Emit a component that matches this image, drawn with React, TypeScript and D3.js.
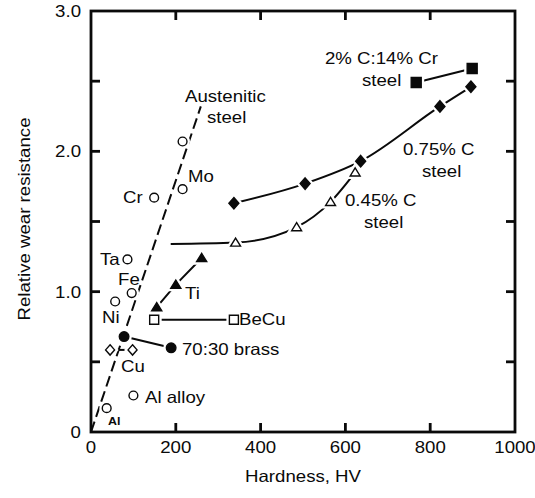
import * as d3 from "d3";

// open circles: pure metals / alloys
const metalNames = ["Al", "Al alloy", "Ni", "Fe", "Ta", "Cr", "Mo", "Austenitic"];
const metalHV = [37, 100, 57, 96, 86, 149, 216, 216];
const metalWear = [0.17, 0.26, 0.93, 0.99, 1.23, 1.67, 1.73, 2.07];

const austeniticHV = [0, 259];
const austeniticWear = [0, 2.32];

const cuHV = [45, 98];
const cuWear = [0.585, 0.585];

const brassHV = [78, 189];
const brassWear = [0.68, 0.6];

const beCuHV = [149, 337];
const beCuWear = [0.8, 0.8];

const tiHV = [155, 200, 261];
const tiWear = [0.89, 1.05, 1.24];

// first point of the 0.45% C curve has no marker
const c045HV = [188, 341, 485, 565, 623];
const c045Wear = [1.34, 1.35, 1.46, 1.64, 1.85];

const c075HV = [337, 505, 636, 823, 896];
const c075Wear = [1.63, 1.77, 1.93, 2.32, 2.46];

const crSteelHV = [767, 899];
const crSteelWear = [2.49, 2.59];

const xTicks = [0, 200, 400, 600, 800, 1000];
const yTicks = [0, 0.5, 1, 1.5, 2, 2.5, 3];
const yTickLabels = ["0", "", "1.0", "", "2.0", "", "3.0"];

const W = 535;
const H = 498;
const left = 91;
const right = 515;
const top = 11;
const bottom = 432;
const FONT = "'Liberation Sans', Arial, Helvetica, sans-serif";
const SX = 1.13;
const INK = "#0a0a0a";

const x = d3.scaleLinear().domain([0, 1000]).range([left, right]);
const y = d3.scaleLinear().domain([0, 3]).range([bottom, top]);

type Kind = "circle" | "diamond" | "square" | "triangle";

const markerPath = (kind: Kind, s: number) => {
  if (kind === "circle") {
    return `M${s},0A${s},${s} 0 1,1 ${-s},0A${s},${s} 0 1,1 ${s},0Z`;
  }
  if (kind === "diamond") {
    return `M0,${-s * 1.15}L${s},0L0,${s * 1.15}L${-s},0Z`;
  }
  if (kind === "square") {
    return `M${-s},${-s}H${s}V${s}H${-s}Z`;
  }
  return `M0,${-s}L${s * 1.1},${s * 0.8}L${-s * 1.1},${s * 0.8}Z`;
};

const Markers = ({
  xs,
  ys,
  kind,
  size,
  filled,
}: {
  xs: number[];
  ys: number[];
  kind: Kind;
  size: number;
  filled: boolean;
}) => (
  <g>
    {xs.map((v, i) => (
      <g key={i} transform={`translate(${x(v)},${y(ys[i])})`}>
        <path d={markerPath(kind, size)} fill="white" stroke="white" strokeWidth={6} />
        <path
          d={markerPath(kind, size)}
          fill={filled ? INK : "white"}
          stroke={INK}
          strokeWidth={1.4}
        />
      </g>
    ))}
  </g>
);

const linePath = (xs: number[], ys: number[], curve = d3.curveLinear) =>
  d3
    .line<number>()
    .x((v) => x(v))
    .y((_, i) => y(ys[i]))
    .curve(curve)(xs) ?? "";

const Label = ({
  tx,
  ty,
  text,
  size = 16.5,
  weight = "normal",
}: {
  tx: number;
  ty: number;
  text: string;
  size?: number;
  weight?: string;
}) => (
  <text
    transform={`translate(${tx},${ty}) scale(${SX},1)`}
    fontFamily={FONT}
    fontSize={size}
    fontWeight={weight}
    fill={INK}
  >
    {text}
  </text>
);

export default function App() {
  const tickLen = 9;
  return (
    <svg
      width={W}
      height={H}
      viewBox={`0 0 ${W} ${H}`}
      style={{ position: "absolute", left: 0, top: 0, background: "white" }}
    >
      <rect x={0} y={0} width={W} height={H} fill="white" />

      {/* axes box and inward ticks */}
      <rect
        x={left}
        y={top}
        width={right - left}
        height={bottom - top}
        fill="none"
        stroke={INK}
        strokeWidth={2.8}
      />
      {xTicks.slice(1, -1).map((t) => (
        <g key={`xt${t}`}>
          <line x1={x(t)} x2={x(t)} y1={bottom} y2={bottom - tickLen} stroke={INK} strokeWidth={2.8} />
          <line x1={x(t)} x2={x(t)} y1={top} y2={top + tickLen} stroke={INK} strokeWidth={2.8} />
        </g>
      ))}
      {yTicks.slice(1, -1).map((t) => (
        <g key={`yt${t}`}>
          <line x1={left} x2={left + tickLen} y1={y(t)} y2={y(t)} stroke={INK} strokeWidth={2.8} />
          <line x1={right} x2={right - tickLen} y1={y(t)} y2={y(t)} stroke={INK} strokeWidth={2.8} />
        </g>
      ))}

      {/* tick labels */}
      {xTicks.map((t) => (
        <text
          key={`xl${t}`}
          transform={`translate(${x(t)},${bottom + 21}) scale(${SX},1)`}
          textAnchor="middle"
          fontFamily={FONT}
          fontSize={16.5}
          fill={INK}
        >
          {t}
        </text>
      ))}
      {yTicks.map((t, i) =>
        yTickLabels[i] ? (
          <text
            key={`yl${t}`}
            transform={`translate(${left - 10},${y(t) + 6}) scale(${SX},1)`}
            textAnchor="end"
            fontFamily={FONT}
            fontSize={16.5}
            fill={INK}
          >
            {yTickLabels[i]}
          </text>
        ) : null
      )}

      {/* axis titles */}
      <text
        transform={`translate(${(left + right) / 2},482) scale(${SX},1)`}
        textAnchor="middle"
        fontFamily={FONT}
        fontSize={16.5}
        fill={INK}
      >
        Hardness, HV
      </text>
      <text
        transform={`translate(30,219) rotate(-90) scale(${SX},1)`}
        textAnchor="middle"
        fontFamily={FONT}
        fontSize={16.5}
        fill={INK}
      >
        Relative wear resistance
      </text>

      {/* lines */}
      <path
        d={linePath(austeniticHV, austeniticWear)}
        fill="none"
        stroke={INK}
        strokeWidth={2}
        strokeDasharray="11,5"
      />
      <path d={linePath(cuHV, cuWear)} fill="none" stroke={INK} strokeWidth={2} />
      <path d={linePath(brassHV, brassWear)} fill="none" stroke={INK} strokeWidth={2} />
      <path d={linePath(beCuHV, beCuWear)} fill="none" stroke={INK} strokeWidth={2} />
      <path d={linePath(tiHV, tiWear)} fill="none" stroke={INK} strokeWidth={2} />
      <path
        d={linePath(c045HV, c045Wear, d3.curveMonotoneX)}
        fill="none"
        stroke={INK}
        strokeWidth={2}
      />
      <path
        d={linePath(c075HV, c075Wear, d3.curveMonotoneX)}
        fill="none"
        stroke={INK}
        strokeWidth={2}
      />
      <path d={linePath(crSteelHV, crSteelWear)} fill="none" stroke={INK} strokeWidth={2} />

      {/* markers */}
      <Markers xs={metalHV} ys={metalWear} kind="circle" size={4.4} filled={false} />
      <Markers xs={cuHV} ys={cuWear} kind="diamond" size={4.5} filled={false} />
      <Markers xs={brassHV} ys={brassWear} kind="circle" size={4.8} filled />
      <Markers xs={beCuHV} ys={beCuWear} kind="square" size={4.5} filled={false} />
      <Markers xs={tiHV} ys={tiWear} kind="triangle" size={4.6} filled />
      <Markers xs={c045HV.slice(1)} ys={c045Wear.slice(1)} kind="triangle" size={4.5} filled={false} />
      <Markers xs={c075HV} ys={c075Wear} kind="diamond" size={5} filled />
      <Markers xs={crSteelHV} ys={crSteelWear} kind="square" size={5} filled />

      {/* labels */}
      <Label tx={185} ty={102} text="Austenitic" />
      <Label tx={207} ty={123} text="steel" />
      <Label tx={188} ty={182} text={metalNames[6]} />
      <Label tx={123} ty={203} text={metalNames[5]} />
      <Label tx={100} ty={265} text={metalNames[4]} />
      <Label tx={118} ty={285} text={metalNames[3]} />
      <Label tx={102} ty={323} text={metalNames[2]} />
      <Label tx={185} ty={299} text="Ti" />
      <Label tx={239} ty={325} text="BeCu" />
      <Label tx={182} ty={355} text="70:30 brass" />
      <Label tx={121} ty={372} text="Cu" />
      <Label tx={145} ty={403} text={metalNames[1]} />
      <Label tx={108} ty={425} text={metalNames[0]} size={11} weight="bold" />
      <Label tx={325} ty={64} text="2% C:14% Cr" />
      <Label tx={362} ty={86} text="steel" />
      <Label tx={403} ty={155} text="0.75% C" />
      <Label tx={422} ty={177} text="steel" />
      <Label tx={345} ty={206} text="0.45% C" />
      <Label tx={364} ty={228} text="steel" />
    </svg>
  );
}
